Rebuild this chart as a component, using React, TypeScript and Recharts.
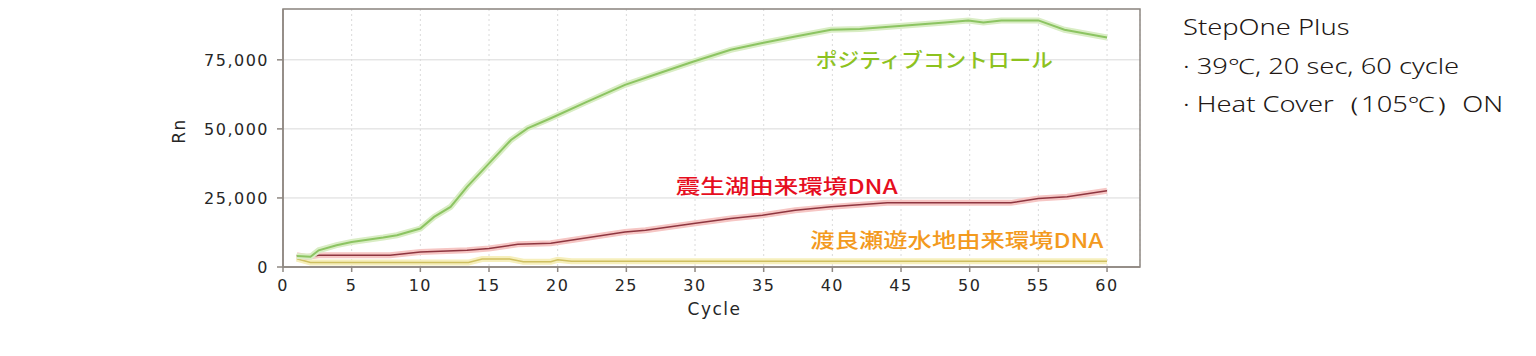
import {
  LineChart,
  Line,
  XAxis,
  YAxis,
  CartesianGrid,
  ReferenceArea,
  ReferenceDot,
} from 'recharts';

// positive control (green)
const greenCycles = [1, 2, 2.6, 3.9, 5, 7.3, 8.3, 10, 11, 12.2, 13.4, 15, 16.6, 17.8, 19.5, 22, 24.9, 27, 29.9, 32.6, 34.9, 37.3, 39.9, 42, 45.1, 48.2, 49.9, 51, 52.3, 55, 56.9, 60];
const greenRn = [4000, 3700, 6050, 7900, 9070, 10670, 11500, 13930, 18140, 21770, 29030, 37520, 45970, 50200, 53850, 59500, 65930, 69500, 74380, 78630, 81060, 83450, 85890, 86200, 87340, 88550, 89270, 88550, 89270, 89270, 85890, 83100];

// 震生湖 (red)
const redCycles = [1, 1.7, 2.6, 7.8, 10, 13.4, 15, 17.1, 19.5, 24.9, 26.4, 29.9, 32.6, 34.9, 37.3, 39.9, 44, 53, 55, 57.1, 60];
const redRn = [4240, 3630, 4240, 4240, 5440, 6050, 6680, 8240, 8600, 12700, 13320, 15750, 17560, 18760, 20570, 21770, 23220, 23220, 24820, 25400, 27580];

// 渡良瀬遊水地 (yellow)
const yellowCycles = [1, 2, 13.5, 14.5, 16.5, 17.5, 19.5, 20, 21, 60];
const yellowRn = [3000, 1600, 1600, 2900, 2900, 1900, 1900, 2600, 2100, 2100];

const xTicks = [0, 5, 10, 15, 20, 25, 30, 35, 40, 45, 50, 55, 60];
const yTicks = [0, 25000, 50000, 75000];

const seriesLabels = [
  { text: 'ポジティブコントロール', cycle: 38.8, rn: 75000, color: '#8dc21f', len: 237 },
  { text: '震生湖由来環境DNA', cycle: 28.6, rn: 29650, color: '#e60e1e', len: 222 },
  { text: '渡良瀬遊水地由来環境DNA', cycle: 38.4, rn: 10050, color: '#f39a1e', len: 293 },
];

const noteLines = ['StepOne Plus', '· 39℃, 20 sec, 60 cycle', '· Heat Cover（105℃）ON'];

const toPoints = (xs: number[], ys: number[]) => xs.map((c, i) => ({ cycle: c, rn: ys[i] }));
const greenData = toPoints(greenCycles, greenRn);
const redData = toPoints(redCycles, redRn);
const yellowData = toPoints(yellowCycles, yellowRn);

const axisFont = { fontSize: 16, fill: '#262626', fontFamily: 'DejaVu Sans', letterSpacing: 1.5 };
const frameColor = '#8f8882';

function seriesLabel(text: string, color: string, len: number) {
  return (props: any) => {
    const vb = props.viewBox || {};
    return (
      <text
        x={vb.x}
        y={vb.y}
        fill={color}
        fontSize={20}
        fontWeight={500}
        fontFamily='"Noto Sans CJK JP", sans-serif'
        dominantBaseline="central"
        textLength={len}
        lengthAdjust="spacingAndGlyphs"
      >
        {text}
      </text>
    );
  };
}

export default function App() {
  return (
    <div style={{ position: 'absolute', left: 0, top: 0, width: 1536, height: 356, background: '#fff' }}>
      <div style={{ position: 'absolute', left: 0, top: 0 }}>
        <LineChart width={1160} height={330} margin={{ top: 9, right: 20, bottom: 0, left: 0 }}>
          <CartesianGrid vertical={false} stroke="#d9d9d9" />
          <CartesianGrid horizontal={false} stroke="#dadada" strokeDasharray="2 3" />
          <XAxis
            type="number"
            dataKey="cycle"
            domain={[0, 62.4]}
            ticks={xTicks}
            allowDataOverflow
            height={63}
            stroke={frameColor}
            strokeWidth={1.5}
            tickSize={5}
            tickMargin={8}
            tick={axisFont}
            label={{
              content: (p: any) => {
                const vb = p.viewBox;
                return (
                  <text x={vb.x + vb.width / 2 + 3} y={vb.y + 42} textAnchor="middle" dominantBaseline="central" style={{ ...axisFont, fontSize: 17 }}>
                    Cycle
                  </text>
                );
              },
            }}
          />
          <YAxis
            type="number"
            dataKey="rn"
            domain={[0, 93400]}
            ticks={yTicks}
            allowDataOverflow
            width={283}
            stroke={frameColor}
            strokeWidth={1.5}
            tickSize={6}
            tickMargin={8}
            tick={axisFont}
            tickFormatter={(v: number) => v.toLocaleString('en-US')}
            label={{
              content: (p: any) => {
                const vb = p.viewBox;
                const cx = vb.x + vb.width - 104;
                const cy = vb.y + vb.height / 2 - 7;
                return (
                  <text x={cx} y={cy} transform={`rotate(-90 ${cx} ${cy})`} textAnchor="middle" dominantBaseline="central" style={{ ...axisFont, fontSize: 17 }}>
                    Rn
                  </text>
                );
              },
            }}
          />
          <ReferenceArea x1={0} x2={62.4} y1={0} y2={93400} fill="none" stroke={frameColor} strokeWidth={1.5} />

          <Line data={yellowData} dataKey="rn" type="linear" dot={false} stroke="#f6efbc" strokeWidth={6} isAnimationActive={false} />
          <Line data={yellowData} dataKey="rn" type="linear" dot={false} stroke="#cfc060" strokeWidth={1.5} isAnimationActive={false} />
          <Line data={redData} dataKey="rn" type="linear" dot={false} stroke="#f6c6c4" strokeWidth={6} isAnimationActive={false} />
          <Line data={redData} dataKey="rn" type="linear" dot={false} stroke="#8e3640" strokeWidth={1.5} isAnimationActive={false} />
          <Line data={greenData} dataKey="rn" type="linear" dot={false} stroke="#d9edc4" strokeWidth={6} isAnimationActive={false} />
          <Line data={greenData} dataKey="rn" type="linear" dot={false} stroke="#8cc462" strokeWidth={2} isAnimationActive={false} />

          {seriesLabels.map((s) => (
            <ReferenceDot
              key={s.text}
              x={s.cycle}
              y={s.rn}
              r={0}
              fill="none"
              stroke="none"
              label={seriesLabel(s.text, s.color, s.len)}
            />
          ))}
        </LineChart>
      </div>
      <div
        style={{
          position: 'absolute',
          left: 1183,
          top: 8,
          fontFamily: '"Noto Sans", sans-serif',
          fontWeight: 300,
          fontSize: 21,
          lineHeight: '38.5px',
          color: '#231815',
          transform: 'scaleX(1.3)',
          transformOrigin: 'left top',
          whiteSpace: 'nowrap',
        }}
      >
        {noteLines.map((t) => (
          <div key={t}>{t}</div>
        ))}
      </div>
    </div>
  );
}
